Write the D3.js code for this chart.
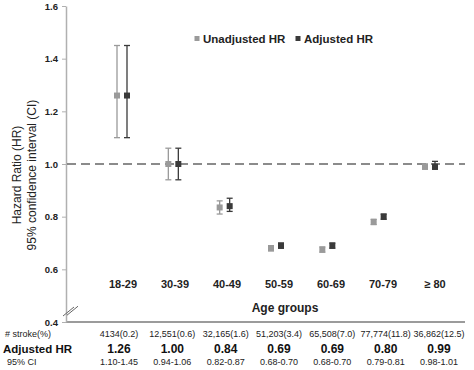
<!DOCTYPE html>
<html>
<head>
<meta charset="utf-8">
<script src="https://cdn.jsdelivr.net/npm/d3@7"></script>
<style>
body { margin: 0; background: #fff; }
svg { font-family: "Liberation Sans", Arial, sans-serif; }
</style>
</head>
<body>
<svg id="chart" width="474" height="370"></svg>
<script>
var categories = ["18-29", "30-39", "40-49", "50-59", "60-69", "70-79", "\u2265 80"];
var strokes = ["4134(0.2)", "12,551(0.6)", "32,165(1.6)", "51,203(3.4)", "65,508(7.0)", "77,774(11.8)", "36,862(12.5)"];
var unadjHR = [1.26, 1.00, 0.835, 0.68, 0.675, 0.78, 0.99];
var unadjLo = [1.10, 0.94, 0.81, 0.67, 0.665, 0.77, 0.98];
var unadjHi = [1.45, 1.06, 0.86, 0.69, 0.685, 0.79, 1.00];
var adjHR = [1.26, 1.00, 0.84, 0.69, 0.69, 0.80, 0.99];
var adjLo = [1.10, 0.94, 0.82, 0.68, 0.68, 0.79, 0.98];
var adjHi = [1.45, 1.06, 0.87, 0.70, 0.70, 0.81, 1.01];
var yTicks = [0.4, 0.6, 0.8, 1.0, 1.2, 1.4, 1.6];

var svg = d3.select("#chart");

var y = d3.scaleLinear().domain([0.4, 1.6]).range([322, 6]);
var x = d3.scalePoint().domain(categories).range([122, 430]);
var xLab = d3.scalePoint().domain(categories).range([123, 435]);
var xTab = d3.scalePoint().domain(categories).range([119, 439]);

// x axis line (bottom)
svg.append("line")
	.attr("x1", 66).attr("x2", 465)
	.attr("y1", y(0.4)).attr("y2", y(0.4))
	.style("stroke", "#7a7a7a").style("stroke-width", 1.5);

// y axis
var yAxis = svg.append("g")
	.attr("transform", "translate(66,0)")
	.call(d3.axisLeft(y).tickValues(yTicks).tickSize(4).tickSizeOuter(0).tickFormat(d3.format(".1f")));
yAxis.select(".domain").style("stroke", "#b0b0b0").style("stroke-width", 1.5);
yAxis.selectAll(".tick line").style("stroke", "#b0b0b0");
yAxis.selectAll(".tick text")
	.attr("x", -8)
	.style("font-family", "Liberation Sans, Arial, sans-serif")
	.style("font-size", "9.5px").style("font-weight", "bold").style("fill", "#222");

// axis break marks
[0, 4].forEach(function(o){
	svg.append("line")
		.attr("x1", 63 + o).attr("y1", 316 - o * 0.2)
		.attr("x2", 74 + o).attr("y2", 307 - o * 0.2)
		.style("stroke", "#666").style("stroke-width", 1);
});

// reference line at HR = 1
svg.append("line")
	.attr("x1", 67).attr("x2", 465)
	.attr("y1", y(1)).attr("y2", y(1))
	.style("stroke", "#666").style("stroke-width", 1.5)
	.style("stroke-dasharray", "9,5");

// y axis title
var yt = svg.append("text")
	.attr("transform", "translate(21,175) rotate(-90)")
	.attr("text-anchor", "middle")
	.style("font-size", "12px").style("fill", "#222");
yt.append("tspan").attr("x", 0).attr("dy", 0).text("Hazard Ratio (HR)");
yt.append("tspan").attr("x", 0).attr("dy", 15).text("95% confidence interval (CI)");

// series
var series = [
	{name: "Unadjusted HR", hr: unadjHR, lo: unadjLo, hi: unadjHi, color: "#9a9a9a", dx: -5},
	{name: "Adjusted HR", hr: adjHR, lo: adjLo, hi: adjHi, color: "#3a3a3a", dx: 5}
];

series.forEach(function(s){
	var g = svg.append("g");
	categories.forEach(function(c, i){
		var cx = x(c) + s.dx;
		g.append("line")
			.attr("x1", cx).attr("x2", cx)
			.attr("y1", y(s.lo[i])).attr("y2", y(s.hi[i]))
			.style("stroke", s.color).style("stroke-width", 1.3);
		[s.lo[i], s.hi[i]].forEach(function(v){
			g.append("line")
				.attr("x1", cx - 3).attr("x2", cx + 3)
				.attr("y1", y(v)).attr("y2", y(v))
				.style("stroke", s.color).style("stroke-width", 1.3);
		});
		g.append("rect")
			.attr("x", cx - 3).attr("y", y(s.hr[i]) - 3)
			.attr("width", 6).attr("height", 6)
			.style("fill", s.color);
	});
});

// legend
var legX = [197, 298];
series.forEach(function(s, i){
	svg.append("rect")
		.attr("x", legX[i] - 2.5).attr("y", 36).attr("width", 5).attr("height", 5)
		.style("fill", s.color);
	svg.append("text")
		.attr("x", legX[i] + 6).attr("y", 43)
		.style("font-size", "11.5px").style("font-weight", "bold").style("fill", "#222")
		.text(s.name);
});

// category labels
svg.selectAll(".cat")
	.data(categories)
	.enter().append("text")
	.attr("class", "cat")
	.attr("x", function(d){ return xLab(d); })
	.attr("y", 288)
	.attr("text-anchor", "middle")
	.style("font-size", "11px").style("font-weight", "bold").style("fill", "#222")
	.text(function(d){ return d; });

svg.append("text")
	.attr("x", 285).attr("y", 312)
	.attr("text-anchor", "middle")
	.style("font-size", "12px").style("font-weight", "bold").style("fill", "#222")
	.text("Age groups");

// table below
svg.append("text").attr("x", 5).attr("y", 337)
	.style("font-size", "9px").style("fill", "#222").text("# stroke(%)");
svg.append("text").attr("x", 3).attr("y", 353)
	.style("font-size", "11.5px").style("font-weight", "bold").style("fill", "#111").text("Adjusted HR");
svg.append("text").attr("x", 7).attr("y", 365)
	.style("font-size", "9px").style("fill", "#222").text("95% CI");

var fmt = d3.format(".2f");
categories.forEach(function(c, i){
	svg.append("text").attr("x", xTab(c)).attr("y", 337).attr("text-anchor", "middle")
		.style("font-size", "9px").style("fill", "#222").text(strokes[i]);
	svg.append("text").attr("x", xTab(c)).attr("y", 353).attr("text-anchor", "middle")
		.style("font-size", "12px").style("font-weight", "bold").style("fill", "#111").text(fmt(adjHR[i]));
	svg.append("text").attr("x", xTab(c)).attr("y", 365).attr("text-anchor", "middle")
		.style("font-size", "9px").style("fill", "#222").text(fmt(adjLo[i]) + "-" + fmt(adjHi[i]));
});
</script>
</body>
</html>
